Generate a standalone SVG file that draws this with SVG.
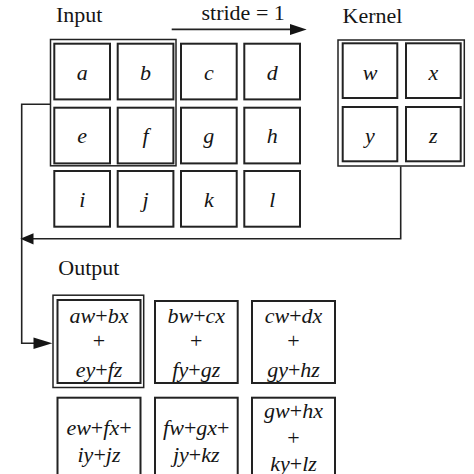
<svg xmlns="http://www.w3.org/2000/svg" width="474" height="474" viewBox="0 0 474 474">
<style>
.cell{fill:#fff;stroke:#222;stroke-width:2}
.frame{fill:none;stroke:#222;stroke-width:1.5}
.lbl{font-family:"Liberation Serif","Times New Roman",serif;font-size:22px;fill:#151515}
.v{font-family:"Liberation Serif","Times New Roman",serif;font-size:22px;font-style:italic;fill:#151515;text-anchor:middle}
.up{font-style:normal}
.conn{fill:none;stroke:#222;stroke-width:1.6}
.head{fill:#151515;stroke:none}
</style>
<rect width="474" height="474" fill="#fff"/>

<g id="labels">
<text class="lbl" x="56" y="21.7">Input</text>
<text class="lbl" x="201.5" y="20">stride = 1</text>
<text class="lbl" x="342.5" y="22.7">Kernel</text>
<text class="lbl" x="58.3" y="275">Output</text>
</g>

<g id="input">
<g id="in-a"><rect class="cell" x="54.3" y="43.7" width="55.7" height="55.7"/><text class="v" x="82.2" y="79.5">a</text></g>
<g id="in-b"><rect class="cell" x="117.7" y="43.7" width="55.7" height="55.7"/><text class="v" x="145.5" y="79.5">b</text></g>
<g id="in-c"><rect class="cell" x="181" y="43.7" width="55.7" height="55.7"/><text class="v" x="208.8" y="79.5">c</text></g>
<g id="in-d"><rect class="cell" x="244.3" y="43.7" width="55.7" height="55.7"/><text class="v" x="272.2" y="79.5">d</text></g>
<g id="in-e"><rect class="cell" x="54.3" y="107.7" width="55.7" height="55.7"/><text class="v" x="82.2" y="142.5">e</text></g>
<g id="in-f"><rect class="cell" x="117.7" y="107.7" width="55.7" height="55.7"/><text class="v" x="145.5" y="142.5">f</text></g>
<g id="in-g"><rect class="cell" x="181" y="107.7" width="55.7" height="55.7"/><text class="v" x="208.8" y="142.5">g</text></g>
<g id="in-h"><rect class="cell" x="244.3" y="107.7" width="55.7" height="55.7"/><text class="v" x="272.2" y="142.5">h</text></g>
<g id="in-i"><rect class="cell" x="54.3" y="171" width="55.7" height="55.7"/><text class="v" x="82.2" y="206.5">i</text></g>
<g id="in-j"><rect class="cell" x="117.7" y="171" width="55.7" height="55.7"/><text class="v" x="145.5" y="206.5">j</text></g>
<g id="in-k"><rect class="cell" x="181" y="171" width="55.7" height="55.7"/><text class="v" x="208.8" y="206.5">k</text></g>
<g id="in-l"><rect class="cell" x="244.3" y="171" width="55.7" height="55.7"/><text class="v" x="272.2" y="206.5">l</text></g>
<rect id="window" class="frame" x="50.5" y="39.5" width="125.5" height="126.3"/>
</g>

<g id="kernel">
<rect class="frame" x="338" y="40" width="126.3" height="126"/>
<g id="k-w"><rect class="cell" x="342.7" y="43.3" width="54.6" height="54.7"/><text class="v" x="370" y="79.5">w</text></g>
<g id="k-x"><rect class="cell" x="406" y="43.3" width="54.7" height="54.7"/><text class="v" x="433.3" y="79.5">x</text></g>
<g id="k-y"><rect class="cell" x="342.7" y="107" width="54.6" height="54.3"/><text class="v" x="370" y="142.5">y</text></g>
<g id="k-z"><rect class="cell" x="406" y="107" width="54.7" height="54.3"/><text class="v" x="433.3" y="142.5">z</text></g>
</g>

<g id="output">
<g id="o1">
<rect class="frame" x="53" y="295.2" width="90.7" height="92.3"/>
<rect class="cell" x="57.5" y="300" width="83" height="83"/>
<text class="v" x="99" y="322.5">aw<tspan class="up">+</tspan>bx</text>
<text class="v up" x="99" y="348.3">+</text>
<text class="v" x="99" y="376.5">ey<tspan class="up">+</tspan>fz</text>
</g>
<g id="o2">
<rect class="cell" x="155" y="301" width="82.7" height="82"/>
<text class="v" x="196.3" y="322.5">bw<tspan class="up">+</tspan>cx</text>
<text class="v up" x="196.3" y="348.3">+</text>
<text class="v" x="196.3" y="376.5">fy<tspan class="up">+</tspan>gz</text>
</g>
<g id="o3">
<rect class="cell" x="252" y="301" width="83" height="82"/>
<text class="v" x="293.5" y="322.5">cw<tspan class="up">+</tspan>dx</text>
<text class="v up" x="293.5" y="348.3">+</text>
<text class="v" x="293.5" y="376.5">gy<tspan class="up">+</tspan>hz</text>
</g>
<g id="o4">
<rect class="cell" x="57.5" y="397.7" width="83" height="90"/>
<text class="v" x="99" y="435">ew<tspan class="up">+</tspan>fx<tspan class="up">+</tspan></text>
<text class="v" x="99" y="461.7">iy<tspan class="up">+</tspan>jz</text>
</g>
<g id="o5">
<rect class="cell" x="155" y="397.7" width="82.7" height="90"/>
<text class="v" x="196.3" y="435">fw<tspan class="up">+</tspan>gx<tspan class="up">+</tspan></text>
<text class="v" x="196.3" y="461.7">jy<tspan class="up">+</tspan>kz</text>
</g>
<g id="o6">
<rect class="cell" x="252" y="397.7" width="83" height="90"/>
<text class="v" x="293.5" y="417.5">gw<tspan class="up">+</tspan>hx</text>
<text class="v up" x="293.5" y="444.5">+</text>
<text class="v" x="293.5" y="470.5">ky<tspan class="up">+</tspan>lz</text>
</g>
</g>

<g id="connectors">
<path class="conn" d="M171.7 29.4 H292"/>
<polygon class="head" points="290,24 306.7,29.4 290,35"/>
<path class="conn" d="M400.7 166.5 V238.7 H32"/>
<polygon class="head" points="33.5,233.3 20.3,238.7 33.5,244.5"/>
<path class="conn" d="M50 104.3 H21.7 V343.3 H36"/>
<polygon class="head" points="33.5,337.5 52.3,343.3 33.5,349"/>
</g>
</svg>
